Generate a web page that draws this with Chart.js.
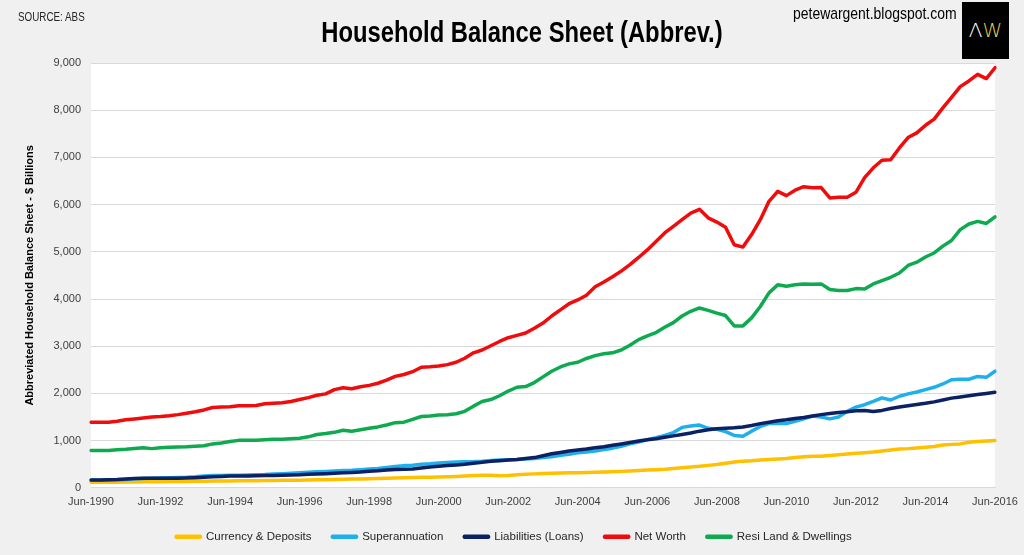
<!DOCTYPE html>
<html><head><meta charset="utf-8">
<script src="https://cdn.jsdelivr.net/npm/chart.js@4.4.0/dist/chart.umd.min.js"></script>
<style>
html,body{margin:0;padding:0;background:#f0f0f0;}
#wrap{position:relative;width:1024px;height:555px;overflow:hidden;background:#f0f0f0;}
canvas{position:absolute;left:0;top:0;}
.t{position:absolute;white-space:nowrap;line-height:1;font-family:"Liberation Sans",Arial,sans-serif;}
#title{left:522px;top:18px;font-weight:bold;font-size:29px;color:#000;transform:translateX(-50%) scaleX(0.82);transform-origin:50% 0;}
#src{left:18px;top:11px;font-size:12px;color:#262626;transform:scaleX(0.82);transform-origin:0 0;}
#blog{left:793px;top:5px;font-size:17px;color:#000;transform:scaleX(0.82);transform-origin:0 0;}
#aw{position:absolute;left:962px;top:2px;width:47px;height:57px;background:#000;color:#fff;font-family:"DejaVu Sans",sans-serif;font-weight:200;font-size:20px;line-height:57px;text-align:center;}
#aw span{color:#e0d35a;}
</style></head>
<body><div id="wrap">
<canvas id="c" width="1024" height="555"></canvas>
<div class="t" id="src">SOURCE: ABS</div>
<div class="t" id="title">Household Balance Sheet (Abbrev.)</div>
<div class="t" id="blog">petewargent.blogspot.com</div>
<div id="aw">Λ<span>W</span></div>
</div>
<script>
const quarterMonths = ['Jun','Sep','Dec','Mar'];
const quarters = [];
for (let i = 0; i < 105; i++) quarters.push(quarterMonths[i % 4] + '-' + (1990 + Math.floor((i + 1) / 4)));

const tickLabels = ['Jun-1990','Jun-1992','Jun-1994','Jun-1996','Jun-1998','Jun-2000','Jun-2002','Jun-2004','Jun-2006','Jun-2008','Jun-2010','Jun-2012','Jun-2014','Jun-2016'];

const seriesNames = ['Currency & Deposits','Superannuation','Liabilities (Loans)','Net Worth','Resi Land & Dwellings'];

const currencyDeposits = [
120,118,118,120,122,124,126,128,130,132,
134,136,138,140,142,144,146,148,150,152,
154,156,158,160,162,165,168,172,176,180,
184,188,192,198,204,210,214,218,222,226,
230,235,242,250,258,268,265,255,262,275,
285,295,305,310,314,318,320,325,330,335,
340,348,358,368,375,385,395,410,425,440,
455,475,495,520,545,565,575,590,600,610,
620,640,660,668,670,685,700,715,730,745,
760,780,800,820,830,845,860,875,905,920,
930,965,980,990,1000];

const superannuation = [
160,160,165,170,178,190,198,205,210,215,
220,225,235,250,258,262,265,268,270,275,
280,290,300,310,318,330,340,348,355,365,
370,385,400,410,430,450,470,480,500,510,
525,535,545,550,555,565,580,590,595,600,
610,620,640,660,690,710,740,760,780,810,
840,880,930,970,1020,1060,1110,1170,1280,1310,
1330,1260,1240,1190,1110,1090,1200,1300,1360,1370,
1360,1410,1460,1520,1500,1460,1500,1620,1710,1760,
1830,1905,1860,1940,1990,2030,2080,2130,2200,2290,
2300,2300,2360,2340,2470];

const liabilities = [
165,165,170,175,185,195,200,200,200,200,
202,208,215,225,235,242,248,250,252,255,
258,262,266,270,275,285,292,300,310,318,
325,335,350,360,375,390,395,400,420,440,
455,470,485,500,520,540,560,575,590,600,
620,640,680,720,750,780,800,820,850,870,
900,930,960,990,1020,1040,1070,1100,1130,1160,
1200,1230,1250,1260,1270,1290,1320,1360,1390,1420,
1440,1470,1490,1520,1550,1575,1595,1610,1630,1640,
1615,1640,1680,1710,1740,1765,1790,1820,1860,1900,
1925,1950,1975,2000,2025];

const netWorth = [
1390,1390,1390,1410,1440,1460,1480,1500,1510,1525,
1550,1580,1610,1650,1700,1710,1715,1740,1740,1745,
1780,1790,1800,1830,1870,1910,1960,1990,2080,2120,
2100,2140,2170,2215,2280,2360,2400,2460,2555,2565,
2580,2610,2660,2745,2860,2920,3010,3100,3180,3230,
3280,3380,3490,3640,3770,3900,3980,4080,4260,4360,
4470,4590,4730,4880,5040,5220,5400,5540,5680,5820,
5900,5720,5630,5520,5150,5100,5365,5680,6070,6280,
6190,6305,6380,6355,6360,6140,6157,6157,6260,6570,
6780,6940,6950,7200,7420,7520,7680,7810,8050,8270,
8500,8620,8760,8670,8900];

const resiLandDwellings = [
790,790,790,805,815,835,850,830,850,860,
865,870,880,890,930,950,980,1005,1010,1010,
1020,1030,1030,1040,1050,1080,1130,1150,1175,1220,
1200,1230,1260,1290,1330,1380,1390,1450,1510,1520,
1540,1550,1570,1620,1730,1830,1870,1950,2050,2130,
2145,2230,2350,2470,2560,2625,2660,2740,2800,2840,
2860,2920,3020,3140,3220,3290,3400,3500,3640,3740,
3810,3760,3700,3650,3430,3430,3600,3840,4130,4300,
4270,4300,4320,4310,4320,4200,4180,4180,4220,4210,
4320,4390,4460,4550,4710,4780,4890,4975,5120,5240,
5470,5590,5645,5600,5740];

const seriesColors = ['#FFC000','#1FB0EC','#0B2163','#F00C0C','#0DAA50'];
const seriesValues = [currencyDeposits, superannuation, liabilities, netWorth, resiLandDwellings];

Chart.defaults.font.family = '"Liberation Sans",Arial,sans-serif';
Chart.defaults.color = '#404040';

const bgPlugin = {
  id: 'plotBg',
  beforeDraw(chart) {
    const {ctx, chartArea: a} = chart;
    ctx.save();
    ctx.fillStyle = '#ffffff';
    ctx.fillRect(a.left, a.top, a.right - a.left, a.bottom - a.top);
    ctx.restore();
  }
};
const LEG_PAD = 21;
const legendShift = {
  id: 'legendShift',
  afterLayout(chart) {
    const l = chart.legend;
    if (!l) return;
    const dy = 537 - (l.top + LEG_PAD + 6);
    l.top += dy; l.bottom += dy;
    const dx = 514 - (l.left + l.right) / 2;
    l.left += dx; l.right += dx;
  }
};

new Chart(document.getElementById('c'), {
  type: 'line',
  data: {
    labels: quarters,
    datasets: seriesNames.map((name, k) => ({
      label: name,
      data: seriesValues[k],
      borderColor: seriesColors[k],
      backgroundColor: seriesColors[k],
      borderWidth: 3.5,
      pointRadius: 0,
      tension: 0,
      fill: false,
      borderJoinStyle: 'round',
      borderCapStyle: 'round',
      order: 5 - k
    }))
  },
  options: {
    responsive: false,
    animation: false,
    devicePixelRatio: 1,
    layout: {padding: {left: 0, right: 29, top: 63, bottom: 0}},
    plugins: {
      legend: {
        position: 'bottom',
        maxHeight: 38,
        labels: {
          boxWidth: 24, boxHeight: 1, padding: LEG_PAD,
          font: {size: 11.5}, color: '#262626',
          sort: (a, b) => a.datasetIndex - b.datasetIndex
        }
      },
      tooltip: {enabled: false},
      title: {display: false}
    },
    scales: {
      x: {
        grid: {display: false, drawTicks: false},
        border: {display: true, color: '#d9d9d9', width: 1},
        ticks: {
          autoSkip: false, maxRotation: 0, minRotation: 0, padding: 8,
          font: {size: 11}, color: '#404040',
          callback: function(v) { const l = this.getLabelForValue(v); return tickLabels.includes(l) ? l : ''; }
        },
        afterFit: s => { s.paddingLeft = 0; s.paddingRight = 0; }
      },
      y: {
        min: 0, max: 9000,
        grid: {color: '#d9d9d9', drawTicks: false},
        border: {display: false},
        ticks: {stepSize: 1000, padding: 10, font: {size: 11}, color: '#404040',
          callback: v => Number(v).toLocaleString('en-US')},
        title: {
          display: true,
          text: 'Abbreviated Household Balance Sheet - $ Billions',
          color: '#000',
          font: {size: 11, weight: 'bold'},
          padding: {top: 23, bottom: 0}
        },
        afterFit: s => { s.width = 91; }
      }
    }
  },
  plugins: [bgPlugin, legendShift]
});
</script>
</body></html>
